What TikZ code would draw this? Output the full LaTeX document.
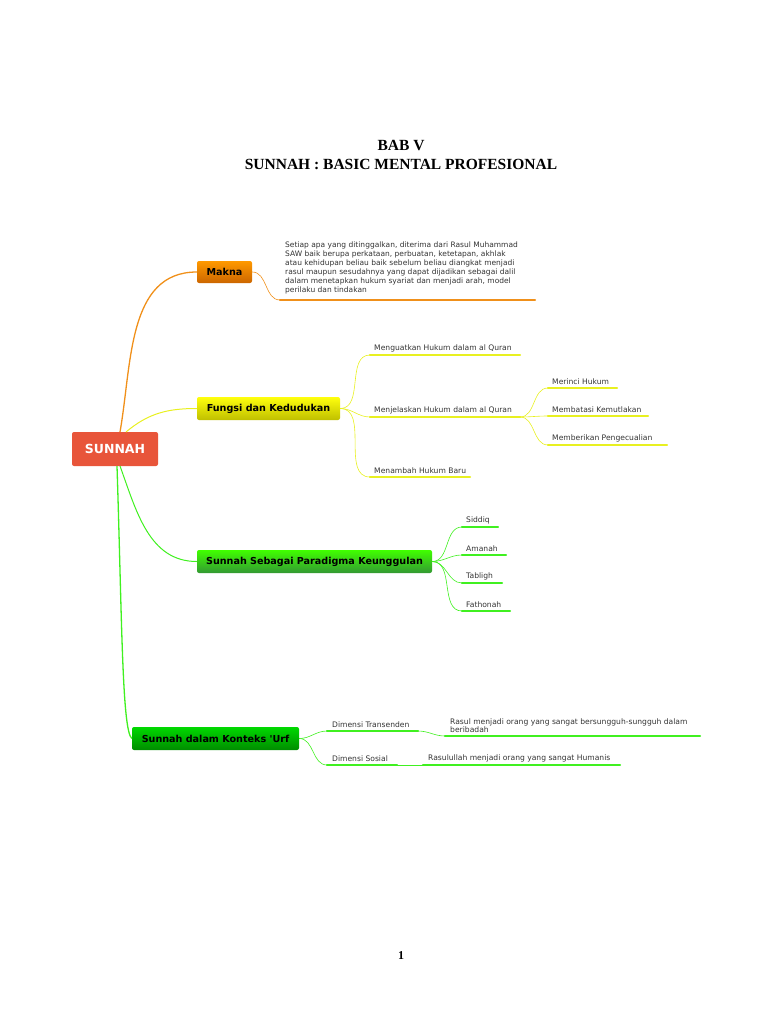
\documentclass[tikz,border=0pt]{standalone}
\usepackage{fontspec}
\setmainfont{DejaVu Sans}
\newfontfamily\titlefont{Liberation Serif}
\begin{document}
\begin{tikzpicture}[x=1pt,y=-1pt,
  box/.style={rounded corners=2pt,inner sep=0pt,font=\bfseries\fontsize{9.6}{11}\selectfont},
  leaf/.style={anchor=south west,inner sep=1pt,font=\fontsize{7.6}{8.4}\selectfont,text=black!80},
  conn/.style={line width=0.6pt},
  ul/.style={line width=2.2pt,line cap=round}]
\useasboundingbox (0,0) rectangle (768,1024);
\definecolor{cor}{HTML}{F0901A}
\definecolor{cye}{HTML}{E8F020}
\definecolor{cgr}{HTML}{40F020}
\definecolor{cred}{HTML}{E8553A}
\node[font=\titlefont\bfseries\fontsize{15.5}{18.5}\selectfont,align=center] (title) at (401,155) {BAB V\\SUNNAH : BASIC MENTAL PROFESIONAL};
\node[font=\titlefont\bfseries\fontsize{12}{14}\selectfont] (pg) at (401,956) {1};
% main boxes
\node[box,fill=cred,text=white,minimum width=86pt,minimum height=34pt,font=\bfseries\fontsize{12.5}{14}\selectfont] (S) at (115,449) {SUNNAH};
\node[box,top color=orange!80!yellow,bottom color=orange!80!black,minimum width=55pt,minimum height=22pt] (M) at (224.5,272) {Makna};
\node[box,top color=yellow!95!white,bottom color=yellow!75!black,minimum width=143pt,minimum height=23pt] (F) at (268.5,408.5) {Fungsi dan Kedudukan};
\node[box,top color=green!75!yellow,bottom color=green!50!black!80,minimum width=235pt,minimum height=23pt] (P) at (314.5,561.5) {Sunnah Sebagai Paradigma Keunggulan};
\node[box,top color=green!85!black,bottom color=green!55!black,minimum width=167pt,minimum height=23pt] (U) at (215.5,738.5) {Sunnah dalam Konteks \textquotesingle Urf};
% main connectors
\draw[cor,line width=1.3pt] (120,432) to[out=80,in=180] (M.west);
\draw[cye,line width=1pt] (126,432) to[out=40,in=180] (F.west);
\draw[cgr,line width=1pt] (120,466) to[out=-70,in=180] (P.west);
\draw[cgr,line width=1.3pt] (117,466) .. controls (122,620) and (122,730) .. (U.west);
% Makna
\coordinate (m0) at (280,300); \coordinate (m1) at (535,300);
\node[leaf,anchor=north west,align=left,inner sep=0pt,font=\fontsize{7.5}{8.9}\selectfont] (mt) at (285,242) {Setiap apa yang ditinggalkan, diterima dari Rasul Muhammad\\SAW baik berupa perkataan, perbuatan, ketetapan, akhlak\\atau kehidupan beliau baik sebelum beliau diangkat menjadi\\rasul maupun sesudahnya yang dapat dijadikan sebagai dalil\\dalam menetapkan hukum syariat dan menjadi arah, model\\perilaku dan tindakan};
\draw[cor,conn] (M.east) to[out=0,in=180] (m0);
\draw[cor,ul] (m0) -- (m1);
% Fungsi
\foreach \n/\y/\xe/\t in {f1/355/520/Menguatkan Hukum dalam al Quran,f2/417/520/Menjelaskan Hukum dalam al Quran,f3/477/470/Menambah Hukum Baru}{
  \coordinate (\n) at (370,\y);
  \node[leaf] (\n t) at (373,\y-2) {\t};
  \draw[cye,conn] (F.east) to[out=0,in=180] (\n);
  \draw[cye,ul] (\n) -- (\xe,\y);
}
\coordinate (f2e) at (520,417);
\foreach \n/\y/\xe/\t in {g1/388/617/Merinci Hukum,g2/416/648/Membatasi Kemutlakan,g3/445/667/Memberikan Pengecualian}{
  \coordinate (\n) at (548,\y);
  \node[leaf] (\n t) at (551,\y-2) {\t};
  \draw[cye,conn] (f2e) to[out=0,in=180] (\n);
  \draw[cye,ul] (\n) -- (\xe,\y);
}
% Paradigma
\foreach \n/\y/\xe/\t in {p1/527/498/Siddiq,p2/555/506/Amanah,p3/583/502/Tabligh,p4/611/510/Fathonah}{
  \coordinate (\n) at (462,\y);
  \node[leaf] (\n t) at (465,\y-2) {\t};
  \draw[cgr,conn] (P.east) to[out=0,in=180] (\n);
  \draw[cgr,ul] (\n) -- (\xe,\y);
}
% Urf
\coordinate (u1) at (327,731); \coordinate (u1e) at (418,731);
\coordinate (u2) at (327,765); \coordinate (u2e) at (397,765);
\node[leaf] (u1t) at (331,729) {Dimensi Transenden};
\node[leaf] (u2t) at (331,763) {Dimensi Sosial};
\draw[cgr,conn] (U.east) to[out=0,in=180] (u1);
\draw[cgr,conn] (U.east) to[out=0,in=180] (u2);
\draw[cgr,ul] (u1) -- (u1e);
\draw[cgr,ul] (u2) -- (u2e);
\coordinate (v1) at (445,736); \coordinate (v2) at (423,765);
\node[leaf,align=left,font=\fontsize{7.6}{8}\selectfont] (v1t) at (449,734) {Rasul menjadi orang yang sangat bersungguh-sungguh dalam\\beribadah};
\node[leaf] (v2t) at (427,763) {Rasulullah menjadi orang yang sangat Humanis};
\draw[cgr,conn] (u1e) to[out=0,in=180] (v1);
\draw[cgr,conn] (u2e) -- (v2);
\draw[cgr,ul] (v1) -- (700,736);
\draw[cgr,ul] (v2) -- (620,765);
\end{tikzpicture}
\end{document}
